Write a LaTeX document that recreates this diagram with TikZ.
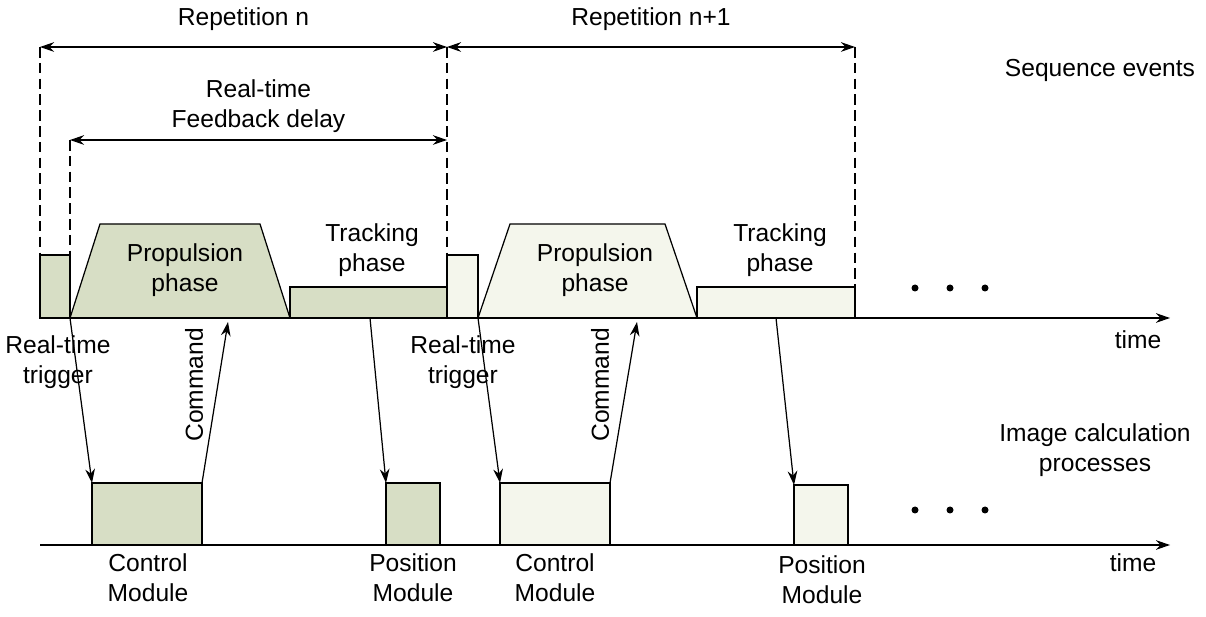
\documentclass[tikz,border=0pt]{standalone}
\usepackage{fontspec}
\setmainfont{Liberation Sans}
\usetikzlibrary{arrows.meta}
\definecolor{dk}{HTML}{D7DEC5}
\definecolor{lt}{HTML}{F4F6EC}
\tikzset{
  >={Stealth[length=8pt,width=5.5pt]},
  lbl/.style={align=center,font=\fontsize{14}{17}\selectfont,inner sep=1pt},
  blk/.style={draw=black,line width=0.7pt},
  guide/.style={draw=black,dash pattern=on 6pt off 3pt,line width=0.6pt},
  pil/.style={->,line width=0.7pt}
}
\begin{document}
\begin{tikzpicture}[x=0.02cm,y=-0.02cm,line width=0.7pt]
\useasboundingbox (0,0) rectangle (1206,617);
% coordinates
\coordinate (r0) at (40,47); \coordinate (r1) at (447,47); \coordinate (r2) at (855,47);
\coordinate (f0) at (70,140); \coordinate (f1) at (447,140);
\coordinate (t0) at (40,318); \coordinate (t1) at (1170,318);
\coordinate (b0) at (40,545); \coordinate (b1) at (1170,545);
% dashed guides
\draw[guide] (r0) -- (40,255);
\draw[guide] (r1) -- (447,255);
\draw[guide] (r2) -- (855,287);
\draw[guide] (f0) -- (70,318);
% dimension arrows
\draw[<->] (r0) -- node[lbl,above=8pt] (rn) {Repetition n} (r1);
\draw[<->] (r1) -- node[lbl,above=8pt] (rn1) {Repetition n+1} (r2);
\draw[<->] (f0) -- node[lbl,above=3pt] (fd) {Real-time\\Feedback delay} (f1);
\node[lbl] (se) at (1100,70) {Sequence events};
% sequence events, repetition n
\draw[blk,fill=dk] (40,318) rectangle (70,255);
\draw[blk,fill=dk] (70,318) -- (100,224) -- (260,224) -- (290,318) -- cycle;
\node[lbl] (pp1) at (185,270) {Propulsion\\phase};
\draw[blk,fill=dk] (290,318) rectangle (447,287);
\node[lbl] (tp1) at (372,250) {Tracking\\phase};
% repetition n+1
\draw[blk,fill=lt] (447,318) rectangle (478,255);
\draw[blk,fill=lt] (478,318) -- (510,224) -- (665,224) -- (697,318) -- cycle;
\node[lbl] (pp2) at (595,270) {Propulsion\\phase};
\draw[blk,fill=lt] (697,318) rectangle (855,287);
\node[lbl] (tp2) at (780,250) {Tracking\\phase};
% axes
\draw[->] (t0) -- (t1);
\node[lbl] (tm1) at (1138,340) {time};
\draw[->] (b0) -- (b1);
\node[lbl] (tm2) at (1133,563) {time};
\foreach \x in {915,950,985} {
  \fill (\x,288) circle (3.5);
  \fill (\x,510) circle (3.5);
}
% processes
\node[lbl] (ic) at (1095,450) {Image calculation\\processes};
\draw[blk,fill=dk] (92,483) rectangle (202,545);
\draw[blk,fill=dk] (386,483) rectangle (440,545);
\draw[blk,fill=lt] (500,483) rectangle (610,545);
\draw[blk,fill=lt] (794,485) rectangle (848,545);
\node[lbl] (cm1) at (148,578) {Control\\Module};
\node[lbl] (pm1) at (413,578) {Position\\Module};
\node[lbl] (cm2) at (555,578) {Control\\Module};
\node[lbl] (pm2) at (822,580) {Position\\Module};
\node[lbl] (rt1) at (58,362) {Real-time\\trigger};
\node[lbl] (rt2) at (463,362) {Real-time\\trigger};
% connectors
\draw[pil] (70,318) -- (92,483);
\draw[pil] (202,483) -- (228,322);
\node[lbl,rotate=90] (cmd1) at (194,385) {Command};
\draw[pil] (370,318) -- (386,483);
\draw[pil] (478,318) -- (500,483);
\draw[pil] (610,483) -- (637,322);
\node[lbl,rotate=90] (cmd2) at (600,385) {Command};
\draw[pil] (776,318) -- (794,485);
\end{tikzpicture}
\end{document}
